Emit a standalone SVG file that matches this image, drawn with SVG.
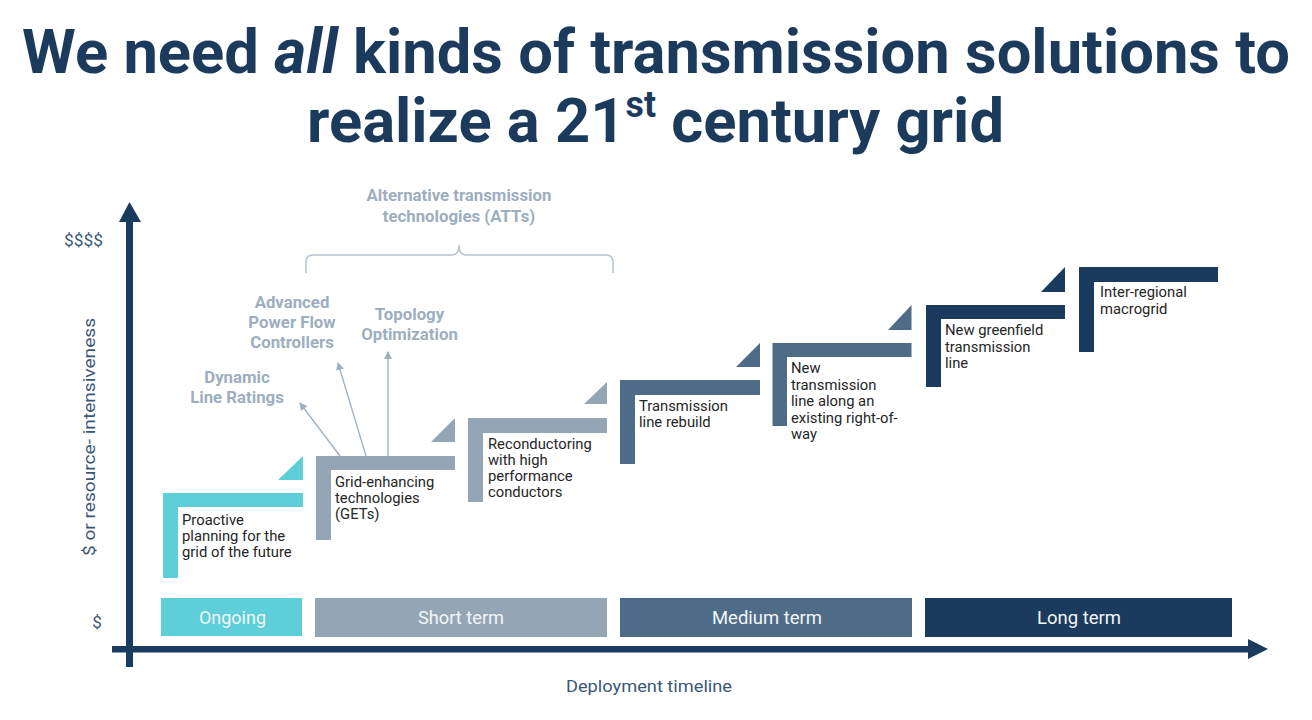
<svg xmlns="http://www.w3.org/2000/svg" width="1312" height="720" viewBox="0 0 1312 720">
<defs>
<style>
.title{font-family:Roboto,"Liberation Sans",sans-serif;font-weight:700;font-size:62px;fill:#1B3A5C}
.step{font-family:Roboto,"Liberation Sans",sans-serif;font-size:14.8px;fill:#262626}
.att{font-family:Roboto,"Liberation Sans",sans-serif;font-weight:700;font-size:16.8px;fill:#9DAEC0;text-anchor:middle}
.term{font-family:Roboto,"Liberation Sans",sans-serif;font-size:18px;fill:#F2F5F8;text-anchor:middle}
.axis{font-family:Roboto,"Liberation Sans",sans-serif;font-size:17px;fill:#3A5877}
.teal{fill:#5ECFD9}.grey{fill:#94A6B6}.mid{fill:#4E6C87}.dark{fill:#1A3A5E}
.conn{stroke:#9EAFC0;stroke-width:1.3;fill:none}
</style>
<marker id="ah" markerWidth="8" markerHeight="8" refX="7" refY="4" orient="auto" markerUnits="userSpaceOnUse">
<path d="M0,0 L8,4 L0,8 z" fill="#9EAFC0"/>
</marker>
</defs>
<rect width="1312" height="720" fill="#FFFFFF"/>

<g id="title">
<text class="title" x="656" y="73" text-anchor="middle" textLength="1268" lengthAdjust="spacingAndGlyphs">We need <tspan font-style="italic">all</tspan> kinds of transmission solutions to</text>
<text class="title" x="307" y="142" textLength="697" lengthAdjust="spacingAndGlyphs">realize a 21<tspan font-size="36" dy="-25">st</tspan><tspan dy="25"> century grid</tspan></text>
</g>

<g id="axes">
<rect x="126" y="218" width="7" height="449" fill="#1A3A5E"/>
<path d="M119,222 L129.5,202 L141,222 z" fill="#1A3A5E"/>
<rect x="112" y="646" width="1138" height="6.5" fill="#1A3A5E"/>
<path d="M1248,639 L1268,649 L1248,659 z" fill="#1A3A5E"/>
<text class="axis" x="83.5" y="246" text-anchor="middle" textLength="39" lengthAdjust="spacingAndGlyphs">$$$$</text>
<text class="axis" x="97" y="628" text-anchor="middle">$</text>
<text class="axis" transform="translate(95,437) rotate(-90)" text-anchor="middle" textLength="238" lengthAdjust="spacingAndGlyphs">$ or resource- intensiveness</text>
<text class="axis" x="649" y="692" text-anchor="middle" textLength="166" lengthAdjust="spacingAndGlyphs">Deployment timeline</text>
</g>

<g id="term-ongoing"><rect class="teal" x="161" y="598" width="141" height="38"/><text class="term" x="232.5" y="623.5" textLength="67" lengthAdjust="spacingAndGlyphs">Ongoing</text></g>
<g id="term-short"><rect class="grey" x="315" y="598" width="292" height="39"/><text class="term" x="461" y="623.5" textLength="86" lengthAdjust="spacingAndGlyphs">Short term</text></g>
<g id="term-medium"><rect class="mid" x="620" y="598" width="292" height="39"/><text class="term" x="767" y="623.5" textLength="110" lengthAdjust="spacingAndGlyphs">Medium term</text></g>
<g id="term-long"><rect class="dark" x="925" y="598" width="307" height="39"/><text class="term" x="1079" y="623.5" textLength="84" lengthAdjust="spacingAndGlyphs">Long term</text></g>

<g id="step-proactive">
<path class="teal" d="M163,493 H303 V507 H178 V578 H163 z"/>
<path class="teal" d="M278,480 H303 V456 z"/>
<text class="step" x="182" y="525">Proactive</text>
<text class="step" x="182" y="541">planning for the</text>
<text class="step" x="182" y="557">grid of the future</text>
</g>

<g id="step-gets">
<path class="grey" d="M316,456 H455 V470 H331 V540 H316 z"/>
<path class="grey" d="M431,442 H455 V418 z"/>
<text class="step" x="335" y="487">Grid-enhancing</text>
<text class="step" x="335" y="503">technologies</text>
<text class="step" x="335" y="519">(GETs)</text>
</g>

<g id="step-reconductoring">
<path class="grey" d="M468,418 H607 V433 H483 V502 H468 z"/>
<path class="grey" d="M584,404 H607 V382 z"/>
<text class="step" x="488" y="449">Reconductoring</text>
<text class="step" x="488" y="465">with high</text>
<text class="step" x="488" y="481">performance</text>
<text class="step" x="488" y="497">conductors</text>
</g>

<g id="step-rebuild">
<path class="mid" d="M620,380 H760 V395 H635 V464 H620 z"/>
<path class="mid" d="M736,367 H760 V343 z"/>
<text class="step" x="639" y="411">Transmission</text>
<text class="step" x="639" y="427">line rebuild</text>
</g>

<g id="step-row">
<path class="mid" d="M772.5,343 H911.5 V357 H787 V426 H772.5 z"/>
<path class="mid" d="M888,330 H911.5 V305 z"/>
<text class="step" x="791" y="373">New</text>
<text class="step" x="791" y="389.5">transmission</text>
<text class="step" x="791" y="406">line along an</text>
<text class="step" x="791" y="422.5">existing right-of-</text>
<text class="step" x="791" y="439">way</text>
</g>

<g id="step-greenfield">
<path class="dark" d="M926,305 H1065 V319 H941 V387 H926 z"/>
<path class="dark" d="M1041,292 H1065 V267 z"/>
<text class="step" x="945" y="335">New greenfield</text>
<text class="step" x="945" y="351.5">transmission</text>
<text class="step" x="945" y="368">line</text>
</g>

<g id="step-macrogrid">
<path class="dark" d="M1079,267 H1218 V282 H1094 V352 H1079 z"/>
<text class="step" x="1100" y="297">Inter-regional</text>
<text class="step" x="1100" y="314">macrogrid</text>
</g>

<g id="att-labels">
<text class="att" x="459" y="201">Alternative transmission</text>
<text class="att" x="459" y="222">technologies (ATTs)</text>
<text class="att" x="292" y="308">Advanced</text>
<text class="att" x="292" y="328">Power Flow</text>
<text class="att" x="292" y="348">Controllers</text>
<text class="att" x="409.5" y="320">Topology</text>
<text class="att" x="409.5" y="340">Optimization</text>
<text class="att" x="237" y="383">Dynamic</text>
<text class="att" x="237" y="403">Line Ratings</text>
</g>

<g id="connectors">
<path d="M306,273 V262 Q306,255 313,255 H452 Q459,255 459,245 Q459,255 466,255 H606 Q613,255 613,262 V273" fill="none" stroke="#B7C4D0" stroke-width="1.5"/>
<line class="conn" x1="340" y1="456" x2="300" y2="403" marker-end="url(#ah)"/>
<line class="conn" x1="366" y1="456" x2="338" y2="363" marker-end="url(#ah)"/>
<line class="conn" x1="388" y1="456" x2="388" y2="352" marker-end="url(#ah)"/>
</g>
</svg>
